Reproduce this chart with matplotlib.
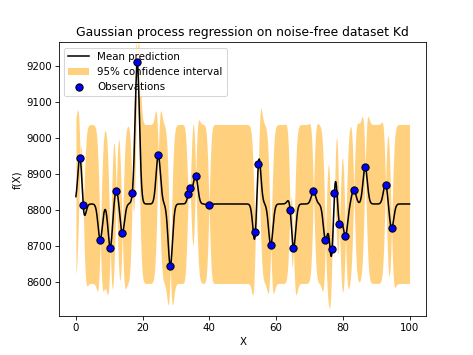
import numpy as np
import matplotlib
matplotlib.use("Agg")
import matplotlib.pyplot as plt

# observations
x_obs = np.array([1.3, 2.2, 7.3, 10.3, 12.1, 13.9, 16.9, 18.4, 24.7, 28.3,
                  33.7, 34.2, 35.9, 39.9, 53.8, 54.7, 58.4, 64.2, 65.2, 71.2,
                  74.8, 76.8, 77.5, 79.0, 80.8, 83.3, 86.7, 92.8, 94.6])
y_obs = np.array([8945, 8812, 8717, 8695, 8853, 8735, 8847, 9210, 8952, 8643,
                  8845, 8860, 8895, 8812, 8737, 8928, 8702, 8800, 8695, 8851,
                  8716, 8690, 8847, 8761, 8726, 8856, 8919, 8870, 8748])

length_scale = 0.65
x_grid = np.linspace(0, 100, 1000)


def rbf(a, b):
    return np.exp(-0.5 * (a[:, None] - b[None, :]) ** 2 / length_scale ** 2)


# noise-free GP with normalised targets
y_mean, y_std = y_obs.mean(), y_obs.std()
yn = (y_obs - y_mean) / y_std
K = rbf(x_obs, x_obs) + 1e-10 * np.eye(len(x_obs))
Ks = rbf(x_grid, x_obs)
alpha = np.linalg.solve(K, yn)
mean_pred = y_mean + y_std * (Ks @ alpha)
v = np.linalg.solve(K, Ks.T)
var = np.clip(1 - np.sum(Ks * v.T, axis=1), 0, None)
std_pred = y_std * np.sqrt(var)

fig = plt.figure(figsize=(6.4, 4.8), dpi=74)
plt.plot(x_grid, mean_pred, color='black', label='Mean prediction')
plt.fill_between(x_grid, mean_pred - 1.96 * std_pred, mean_pred + 1.96 * std_pred,
                 color='orange', alpha=0.5, lw=0, label='95% confidence interval')
plt.scatter(x_obs, y_obs, s=50, color='blue', edgecolors='black', zorder=3, label='Observations')
leg = plt.legend(loc='upper left')
leg.set_zorder(1.5)  # data drawn over the legend box
plt.ylim(8505, 9265)
plt.xlabel('X')
plt.ylabel('f(X)')
plt.title('Gaussian process regression on noise-free dataset Kd')
plt.savefig('out.png')
